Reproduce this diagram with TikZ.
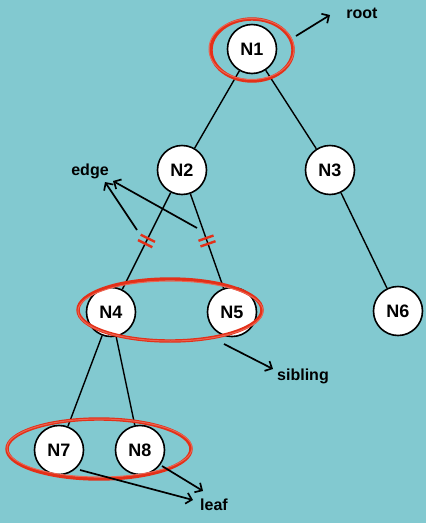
\documentclass[tikz,border=0pt]{standalone}
\usepackage{fontspec}
\setmainfont{Liberation Sans}
\usetikzlibrary{arrows.meta,decorations.markings}
\definecolor{bgteal}{RGB}{130,201,208}
\definecolor{sketchred}{RGB}{228,48,24}
\begin{document}
\begin{tikzpicture}[x=1pt,y=-1pt,
  treenode/.style={circle,draw=black,fill=white,line width=1.6pt,minimum size=49pt,inner sep=0pt,
    font=\fontsize{18}{18}\selectfont\bfseries},
  lbl/.style={font=\fontsize{16}{16}\selectfont\bfseries,inner sep=0pt},
  treeedge/.style={line width=1.4pt},
  pointer/.style={line width=1.7pt,-{Straight Barb[length=5.5pt,width=11pt,line width=1.7pt]}},
  ring/.style={draw=sketchred,line width=3.4pt},
  ringthin/.style={draw=sketchred!75!white,line width=1pt},
  ticked/.style={postaction={decorate,decoration={markings,
    mark=at position #1 with {\draw[sketchred,line width=2.4pt] (-3pt,-8pt)--(-3pt,8pt) (3pt,-8pt)--(3pt,8pt);}}}}
]
\useasboundingbox (0,0) rectangle (426,523);
\fill[bgteal] (0,0) rectangle (426,523);

% nodes
\node[treenode] (N1) at (252,49) {N1};
\node[treenode] (N2) at (182,170) {N2};
\node[treenode] (N3) at (330,170) {N3};
\node[treenode] (N4) at (111,312) {N4};
\node[treenode] (N5) at (232,312) {N5};
\node[treenode] (N6) at (398,311) {N6};
\node[treenode] (N7) at (59,450) {N7};
\node[treenode] (N8) at (140,450) {N8};

% edges
\draw[treeedge] (N1) -- (N2);
\draw[treeedge] (N1) -- (N3);
\draw[treeedge,ticked=0.5] (N2) -- (N4);
\draw[treeedge,ticked=0.5] (N2) -- (N5);
\draw[treeedge] (N3) -- (N6);
\draw[treeedge] (N4) -- (N7);
\draw[treeedge] (N4) -- (N8);

% red rings
\draw[ring] (252,50) ellipse [x radius=41, y radius=31];
\draw[ringthin] (251.5,49) ellipse [x radius=42.5, y radius=30.5];
\draw[ring] (170,310) ellipse [x radius=92, y radius=31];
\draw[ringthin] (170.5,311) ellipse [x radius=92.5, y radius=30];
\draw[ring] (99,449) ellipse [x radius=92, y radius=30];
\draw[ringthin] (99.5,448) ellipse [x radius=92.5, y radius=29];

% labels
\node[lbl] (root) at (362,13) {root};
\node[lbl] (edge) at (90,171) {edge};
\node[lbl] (sibling) at (303,376) {sibling};
\node[lbl] (leaf) at (214,505) {leaf};

% pointer starts / ends
\coordinate (r0) at (296,36);
\coordinate (r1) at (330,15);
\coordinate (e0) at (137,230);
\coordinate (e1) at (105,182);
\coordinate (e2) at (197,228);
\coordinate (e3) at (113,181);
\coordinate (s0) at (224,344);
\coordinate (s1) at (273,369);
\coordinate (l0) at (80,470);
\coordinate (l1) at (193,500);
\coordinate (l2) at (162,466);
\coordinate (l3) at (203,491);

\draw[pointer] (r0) -- (r1);
\draw[pointer] (e0) -- (e1);
\draw[pointer] (e2) -- (e3);
\draw[pointer] (s0) -- (s1);
\draw[pointer] (l0) -- (l1);
\draw[pointer] (l2) -- (l3);
\end{tikzpicture}
\end{document}
